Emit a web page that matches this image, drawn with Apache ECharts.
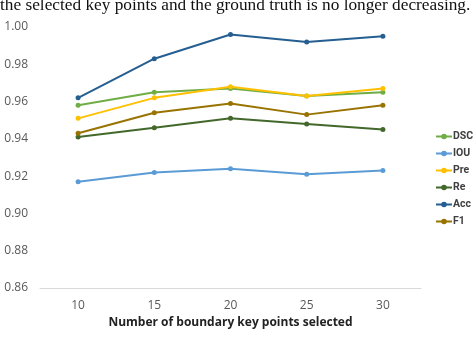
<!DOCTYPE html>
<html>
<head>
<meta charset="utf-8">
<script src="https://cdn.jsdelivr.net/npm/echarts@6/dist/echarts.min.js"></script>
<style>
html,body{margin:0;padding:0;background:#fff;}
#chart{width:474px;height:343px;}
</style>
</head>
<body>
<div id="chart"></div>
<script>
var categories = ['10', '15', '20', '25', '30'];
var dsc = [0.958, 0.965, 0.967, 0.963, 0.965];
var iou = [0.917, 0.922, 0.924, 0.921, 0.923];
var pre = [0.951, 0.962, 0.968, 0.963, 0.967];
var re  = [0.941, 0.946, 0.951, 0.948, 0.945];
var acc = [0.962, 0.983, 0.996, 0.992, 0.995];
var f1  = [0.943, 0.954, 0.959, 0.953, 0.958];
var seriesNames = ['DSC', 'IOU', 'Pre', 'Re', 'Acc', 'F1'];
var seriesData = [dsc, iou, pre, re, acc, f1];
var colors = ['#70AD47', '#5B9BD5', '#FFC000', '#43682B', '#255E91', '#997300'];
var topText = 'the selected key points and the ground truth is no longer decreasing.';
var xTitle = 'Number of boundary key points selected';

var chart = echarts.init(document.getElementById('chart'), null, {renderer: 'canvas'});
chart.setOption({
  animation: false,
  backgroundColor: '#fff',
  color: colors,
  graphic: [{
    type: 'text', left: 0, top: -3,
    style: {text: topText, font: '17.3px "Liberation Serif", serif', fill: '#111'}
  }],
  grid: {left: 40, right: 53, top: 27, bottom: 55, containLabel: false},
  legend: {
    orient: 'vertical', left: 430, top: 126,
    itemWidth: 16, itemHeight: 7, itemGap: 6,
    textStyle: {fontFamily: 'Roboto', fontWeight: 'bold', fontSize: 10.5, color: '#404040', padding: [0, 0, 0, -4]},
    data: seriesNames
  },
  xAxis: {
    type: 'category', data: categories, boundaryGap: true,
    axisLine: {lineStyle: {color: '#d9d9d9'}},
    axisTick: {show: false},
    axisLabel: {fontFamily: 'Open Sans', fontSize: 12, color: '#595959', margin: 12},
    name: xTitle, nameLocation: 'middle', nameGap: 27,
    nameTextStyle: {fontFamily: 'Open Sans', fontWeight: 'bold', fontSize: 12, color: '#222'}
  },
  yAxis: {
    type: 'value', min: 0.86, max: 1.00, interval: 0.02,
    axisLine: {show: false}, axisTick: {show: false},
    splitLine: {show: false},
    axisLabel: {fontFamily: 'Open Sans', fontSize: 12, color: '#595959', margin: 12,
      formatter: function (v) { return v.toFixed(2); }}
  },
  series: seriesNames.map(function (n, i) {
    return {
      name: n, type: 'line', data: seriesData[i],
      symbol: 'circle', symbolSize: 5,
      lineStyle: {width: 2, color: colors[i]},
      itemStyle: {color: colors[i]}
    };
  })
});
</script>
</body>
</html>
